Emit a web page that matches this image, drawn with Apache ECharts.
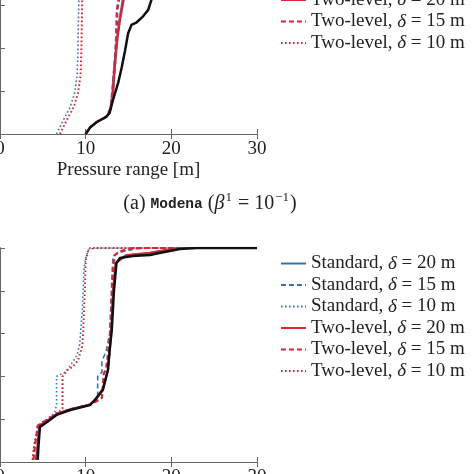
<!DOCTYPE html>
<html>
<head>
<meta charset="utf-8">
<script src="https://cdn.jsdelivr.net/npm/echarts@6/dist/echarts.min.js"></script>
<style>
  html, body { margin: 0; padding: 0; background: #fff; }
  #chart { width: 474px; height: 474px; }
</style>
</head>
<body>
<div id="chart"></div>
<script>
// legend names
var names = ['Standard, δ = 20 m', 'Standard, δ = 15 m', 'Standard, δ = 10 m',
             'Two-level, δ = 20 m', 'Two-level, δ = 15 m', 'Two-level, δ = 10 m'];
var xTicks = [0, 10, 20, 30];

// (a) Modena: [pressure range, fraction]
var modenaStd20 = [[10.0,0],[10.5,0.03],[11.3,0.056],[12.4,0.08],[12.8,0.1],[13.1,0.19],[13.3,0.31],[13.6,0.44],[13.9,0.53],[14.3,0.63],[14.9,0.75],[15.8,0.9],[17.5,1]];
var modenaStd15 = [[10.0,0],[10.5,0.03],[11.3,0.056],[12.4,0.08],[12.9,0.126],[13.3,0.31],[13.5,0.44],[13.6,0.58],[13.8,0.63],[14.4,0.8],[15.8,1]];
var modenaStd10 = [[6.6,0],[7.4,0.065],[8.2,0.126],[8.7,0.19],[9.0,0.27],[9.1,0.39],[9.2,0.63],[9.5,0.8],[10.5,1]];
var modenaTwo20 = [[10.0,0],[10.5,0.03],[11.3,0.056],[12.4,0.08],[12.8,0.098],[13.2,0.19],[13.4,0.31],[13.7,0.44],[14.0,0.53],[14.45,0.63],[15.0,0.75],[16.0,0.9],[18.0,1]];
var modenaTwo15 = [[10.0,0],[10.5,0.03],[11.3,0.056],[12.4,0.08],[13.0,0.126],[13.4,0.31],[13.6,0.44],[13.7,0.58],[13.9,0.63],[14.5,0.8],[16.0,1]];
var modenaTwo10 = [[7.0,0],[7.8,0.065],[8.6,0.126],[9.1,0.19],[9.4,0.27],[9.5,0.39],[9.6,0.63],[9.9,0.8],[11.0,1]];
var modenaRef = [[10.0,0],[10.5,0.03],[11.3,0.056],[12.4,0.08],[12.8,0.1],[13.2,0.16],[13.8,0.24],[14.2,0.31],[14.6,0.39],[14.95,0.47],[15.35,0.51],[15.9,0.52],[16.7,0.55],[17.3,0.58],[17.7,0.63],[18.5,0.72],[20.0,0.85],[22.0,1]];

// second network
var netStd20 = [[4.2,0.01],[4.4,0.08],[4.6,0.17],[5.5,0.192],[6.6,0.224],[8.2,0.246],[10.5,0.268],[11.1,0.292],[12.0,0.34],[12.6,0.43],[12.8,0.52],[13.0,0.62],[13.2,0.8],[13.5,0.93],[14.6,0.966],[17.3,0.976],[19.2,0.99],[20.8,1],[30,1]];
var netStd15 = [[3.9,0.01],[4.1,0.08],[4.4,0.17],[5.4,0.195],[6.6,0.226],[8.2,0.246],[10.5,0.268],[11.4,0.29],[11.4,0.40],[11.9,0.42],[11.9,0.47],[12.4,0.52],[12.8,0.6],[12.9,0.7],[13.1,0.9],[13.2,0.963],[14.0,0.98],[15.7,0.995],[17.0,1],[30,1]];
var netStd10 = [[3.8,0.01],[4.0,0.08],[4.5,0.17],[5.5,0.2],[6.4,0.23],[6.6,0.27],[6.6,0.4],[7.6,0.42],[8.2,0.45],[9.0,0.5],[9.3,0.55],[9.6,0.7],[9.8,0.9],[10.0,0.95],[10.3,0.99],[11.0,1],[30,1]];
var netTwo20 = [[4.2,0.01],[4.4,0.08],[4.6,0.17],[5.5,0.192],[6.6,0.224],[8.2,0.246],[10.5,0.268],[11.1,0.292],[12.0,0.34],[12.6,0.43],[12.8,0.52],[13.0,0.62],[13.2,0.8],[13.5,0.93],[14.8,0.967],[17.5,0.977],[19.4,0.99],[21.0,1],[30,1]];
var netTwo15 = [[3.9,0.01],[4.1,0.08],[4.4,0.17],[5.4,0.195],[6.6,0.226],[8.2,0.246],[10.5,0.268],[11.6,0.29],[11.9,0.30],[12.0,0.35],[12.1,0.41],[12.4,0.44],[12.8,0.57],[13.0,0.7],[13.2,0.9],[13.4,0.967],[14.0,0.985],[15.5,1],[30,1]];
var netTwo10 = [[3.8,0.01],[4.0,0.08],[4.5,0.17],[5.6,0.2],[6.8,0.23],[7.3,0.25],[7.3,0.4],[7.9,0.43],[8.5,0.445],[9.1,0.475],[9.6,0.54],[9.7,0.6],[9.9,0.8],[10.0,0.94],[10.3,0.99],[10.5,1],[30,1]];
var netRef = [[4.4,0.01],[4.5,0.08],[4.66,0.164],[5.5,0.187],[6.6,0.22],[8.2,0.243],[10.5,0.266],[11.1,0.29],[12.0,0.336],[12.6,0.43],[12.8,0.523],[13.05,0.617],[13.3,0.8],[13.6,0.93],[14.0,0.953],[15.5,0.963],[17.5,0.967],[18.6,0.977],[19.8,0.986],[21.0,0.995],[23.0,1],[30,1]];

var blue = '#3a72ad', red = '#d6263a';
var serif = 'Liberation Serif';

var myChart = echarts.init(document.getElementById('chart'));

function xAx(grid, pos, labels, name) {
  return {
    type: 'value', gridIndex: grid, position: pos, min: 0, max: 30, interval: 10,
    axisLine: { show: true, lineStyle: { color: '#666', width: 1 } },
    axisTick: { show: true, inside: true, length: 5, lineStyle: { color: '#666' } },
    axisLabel: { show: labels, margin: 6, fontFamily: serif, fontSize: 19, color: '#222',
                 formatter: function (v) { return xTicks.indexOf(v) >= 0 ? String(v) : ''; } },
    splitLine: { show: false },
    name: name || '', nameLocation: 'middle', nameGap: 27,
    nameTextStyle: { fontFamily: serif, fontSize: 19, color: '#222' }
  };
}
function yAx(grid, pos) {
  return {
    type: 'value', gridIndex: grid, position: pos, min: 0, max: 1, interval: 0.2,
    axisLine: { show: true, lineStyle: { color: '#666', width: 1 } },
    axisTick: { show: true, inside: true, length: 5, lineStyle: { color: '#666' } },
    axisLabel: { show: false }, splitLine: { show: false }
  };
}
function line(name, data, xi, yi, color, type, width, z) {
  return {
    name: name, type: 'line', data: data, xAxisIndex: xi, yAxisIndex: yi,
    symbol: 'none', z: z || 2,
    lineStyle: { color: color, type: type, width: width },
    itemStyle: { color: color }
  };
}
function legend(top) {
  return {
    data: names, orient: 'vertical', left: 280, top: top, padding: 0,
    itemWidth: 25, itemHeight: 14, itemGap: 2.5,
    itemStyle: { opacity: 0 },
    textStyle: { fontFamily: serif, fontSize: 19, color: '#222',
                 rich: { i: { fontFamily: serif, fontStyle: 'italic', fontSize: 19, color: '#222' } } },
    formatter: function (n) { return n.replace('δ', '{i|δ}'); }
  };
}

var dash = [5, 3], dot = [1.6, 2.4];

var option = {
  animation: false,
  grid: [
    { left: 0, right: 217, top: -80, bottom: 340, outerBoundsMode: 'none' },
    { left: 0, right: 217, top: 248, bottom: 12, outerBoundsMode: 'none' }
  ],
  xAxis: [xAx(0, 'bottom', true, 'Pressure range [m]'), xAx(0, 'top', false),
          xAx(1, 'bottom', true), xAx(1, 'top', false)],
  yAxis: [yAx(0, 'left'), yAx(0, 'right'), yAx(1, 'left'), yAx(1, 'right')],
  legend: [legend(-74), legend(254)],
  graphic: [{
    type: 'text', x: 210, y: 204,
    style: {
      text: '{s|(a) }{m|Modena}{s| (}{i|β}{sup|1}{s| = 10}{sup|−1}{s|)}',
      align: 'center', verticalAlign: 'middle',
      rich: {
        s: { fontFamily: serif, fontSize: 20, fill: '#222' },
        m: { fontFamily: 'Liberation Mono', fontSize: 14.5, fontWeight: 'bold', fill: '#222' },
        i: { fontFamily: serif, fontStyle: 'italic', fontSize: 20, fill: '#222' },
        sup: { fontFamily: serif, fontSize: 13, fill: '#222', padding: [0, 1, 12, 1] }
      }
    }
  }],
  series: [
    line(names[0], modenaStd20, 0, 0, blue, 'solid', 1.6),
    line(names[1], modenaStd15, 0, 0, blue, dash, 1.6),
    line(names[2], modenaStd10, 0, 0, blue, dot, 1.6),
    line(names[3], modenaTwo20, 0, 0, red, 'solid', 2.2),
    line(names[4], modenaTwo15, 0, 0, red, dash, 2.2),
    line(names[5], modenaTwo10, 0, 0, red, dot, 2),
    line('Reference', modenaRef, 0, 0, '#111', 'solid', 2.5, 3),
    line(names[0], netStd20, 2, 2, blue, 'solid', 1.6),
    line(names[1], netStd15, 2, 2, blue, dash, 1.6),
    line(names[2], netStd10, 2, 2, blue, dot, 1.6),
    line(names[3], netTwo20, 2, 2, red, 'solid', 2.2),
    line(names[4], netTwo15, 2, 2, red, dash, 2.2),
    line(names[5], netTwo10, 2, 2, red, dot, 2),
    line('Reference', netRef, 2, 2, '#111', 'solid', 2.5, 3)
  ]
};
myChart.setOption(option);
</script>
</body>
</html>
